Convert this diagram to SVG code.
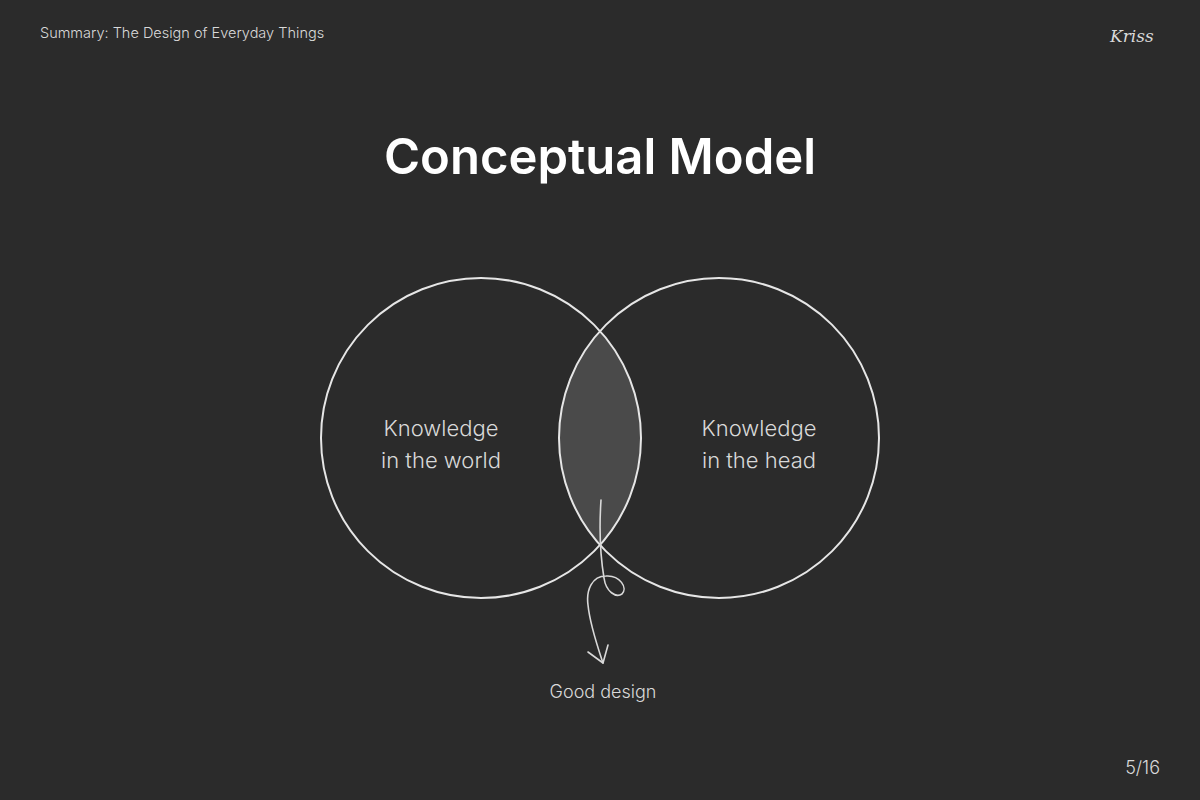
<svg xmlns="http://www.w3.org/2000/svg" width="1200" height="800" viewBox="0 0 1200 800">
<style>
.t{font-family:Inter,"Liberation Sans",sans-serif;fill:#d9d9d9;font-weight:300}
.c{fill:none;stroke:#e6e6e6;stroke-width:2}
.ln{fill:none;stroke:#d9d9d9;stroke-width:1.6;stroke-linecap:round;stroke-linejoin:round}
</style>
<defs><clipPath id="lc"><circle cx="481" cy="438" r="160"/></clipPath></defs>
<rect width="1200" height="800" fill="#2b2b2b"/>
<text class="t" x="40" y="38" font-size="14.5">Summary: The Design of Everyday Things</text>
<text x="1110" y="42" font-family="'DejaVu Serif',serif" font-style="italic" font-size="17" fill="#d9d9d9">Kriss</text>
<text x="600" y="174" text-anchor="middle" font-family="Inter,'Liberation Sans',sans-serif" font-weight="600" font-size="49" fill="#ffffff">Conceptual Model</text>
<g id="lens"><circle cx="719" cy="438" r="160" fill="#4a4a4a" clip-path="url(#lc)"/></g>
<g id="left"><circle class="c" cx="481" cy="438" r="160"/>
<text class="t" font-size="22" text-anchor="middle"><tspan x="441" y="436">Knowledge</tspan><tspan x="441" y="468">in the world</tspan></text></g>
<g id="right"><circle class="c" cx="719" cy="438" r="160"/>
<text class="t" font-size="22" text-anchor="middle"><tspan x="759" y="436">Knowledge</tspan><tspan x="759" y="468">in the head</tspan></text></g>
<g id="connectors">
<path class="ln" d="M601,500 C599,530 601,560 604,578 C606,592 616,598 622,594 C628,588 620,575 606,576 C592,576 586,590 588,605 C590,625 598,648 603,663"/>
<path class="ln" d="M588,652 L603,663 L608,645"/>
</g>
<text class="t" x="603" y="698" font-size="18" text-anchor="middle">Good design</text>
<text class="t" x="1160" y="774" font-size="18" text-anchor="end">5/16</text>
</svg>
